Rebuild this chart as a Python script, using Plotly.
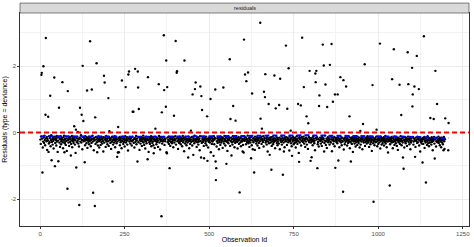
import numpy as np
import plotly.graph_objects as go

# ---- data ----
pos_ids = [17,148,10,126,167,5,4,42,66,82,30,139,153,189,191,202,242,253,261,263,16,24,56,118,123,128,163,101,106,112,205,231,274,
           366,401,603,373,427,561,281,289,319,405,404,606,290,351,376,367,460,458,474,451,477,504,518,542,610,276,292,360,372,396,479,494,571,563,578,341,446,
           651,727,775,836,862,735,615,666,693,710,797,817,814,839,857,815,844,888,897,905,780,627,662,665,826,872,880,676,707,697,731,763,771,825,849,866,788,793,915,652,656,741,
           1005,1135,1046,1087,1114,960,1100,1169,983,1041,1063,1089,1107,1120,1102,1174,1101,1068,1154,1164,1198,1208,955,995,947]
pos_res = [2.85,2.75,2.0,2.01,2.09,1.80,1.74,1.66,1.52,1.25,1.11,1.27,1.30,1.71,1.51,1.04,1.57,1.37,1.75,1.84,0.54,0.48,0.75,0.75,0.54,0.35,0.46,0.19,0.09,0.02,0.04,0.17,0.63,
           2.93,2.76,2.80,2.17,2.17,2.21,1.92,1.84,1.67,1.85,1.80,1.75,1.36,1.46,1.37,1.28,1.51,1.31,1.39,1.15,1.10,1.01,1.30,1.36,1.55,0.63,0.71,0.61,0.78,0.51,0.68,0.49,0.80,0.41,0.36,0.12,0.06,
           3.31,2.62,2.86,2.65,2.67,1.94,1.81,1.76,1.72,1.62,1.86,1.86,1.78,2.02,2.04,1.52,1.45,1.67,1.58,1.39,1.37,1.18,1.23,1.07,1.12,1.15,1.15,0.86,0.83,0.73,0.72,0.86,0.82,0.80,0.77,0.93,0.49,0.28,0.49,0.42,0.12,0.06,
           2.68,2.90,2.51,2.42,2.31,2.06,1.95,1.86,1.43,1.61,1.44,1.46,1.39,1.31,1.15,0.86,0.79,0.53,0.44,0.41,0.43,0.29,0.26,0.09,0.05]

neg_ids = [7,44,34,54,107,132,81,157,116,162,214,228,288,318,359,383,520,521,519,551,590,513,476,485,495,566,438,453,
           633,684,718,624,766,800,820,873,882,919,896,986,1034,1075,1073,1131,1141,1167,1109,599,629,679,721,745,803,840,1193,1207,
           72,91,25,169,233,336,374]
neg_res = [-1.20,-1.01,-0.83,-0.86,-1.05,-0.89,-1.69,-1.81,-2.18,-2.21,-1.47,-0.73,-0.87,-0.80,-2.52,-1.07,-1.43,-1.07,-0.87,-0.94,-1.80,-0.70,-0.75,-0.77,-0.85,-0.69,-0.75,-0.67,
           -1.20,-1.12,-1.27,-0.77,-0.88,-0.85,-1.07,-1.06,-0.84,-0.87,-1.78,-2.08,-1.59,-1.09,-0.75,-0.90,-1.50,-0.78,-0.73,-0.57,-0.50,-0.67,-0.57,-0.70,-0.74,-0.57,-0.53,-0.53,
           -0.59,-0.69,-0.58,-0.59,-0.59,-0.62,-0.59]

band_res = [
-0.21,-0.34,-0.12,-0.18,-0.45,-0.27,-0.15,-0.31,-0.09,-0.22,-0.38,-0.17,-0.26,-0.13,-0.52,-0.19,-0.24,-0.33,-0.11,-0.29,
-0.16,-0.41,-0.23,-0.08,-0.28,-0.19,-0.36,-0.14,-0.25,-0.48,-0.2,-0.12,-0.31,-0.17,-0.22,-0.39,-0.1,-0.27,-0.15,-0.58,
-0.24,-0.13,-0.3,-0.18,-0.43,-0.21,-0.11,-0.35,-0.26,-0.16,-0.2,-0.29,-0.47,-0.14,-0.23,-0.09,-0.32,-0.19,-0.27,-0.37,
-0.12,-0.25,-0.55,-0.18,-0.22,-0.3,-0.15,-0.4,-0.2,-0.13,-0.28,-0.17,-0.34,-0.24,-0.1,-0.44,-0.21,-0.16,-0.26,-0.31,
-0.19,-0.14,-0.36,-0.23,-0.61,-0.17,-0.29,-0.12,-0.25,-0.33,-0.2,-0.42,-0.15,-0.27,-0.18,-0.08,-0.3,-0.22,-0.5,-0.13,
-0.26,-0.16,-0.21,-0.38,-0.11,-0.24,-0.19,-0.32,-0.14,-0.46,-0.23,-0.17,-0.28,-0.12,-0.35,-0.2,-0.25,-0.15,-0.41,-0.22,
-0.31,-0.18,-0.09,-0.27,-0.2,-0.53,-0.16,-0.24,-0.34,-0.13,-0.21,-0.29,-0.17,-0.39,-0.23,-0.11,-0.26,-0.45,-0.19,-0.14,
-0.22,-0.37,-0.15,-0.28,-0.12,-0.2,-0.33,-0.18,-0.25,-0.57,-0.14,-0.3,-0.21,-0.16,-0.43,-0.24,-0.1,-0.27,-0.19,-0.35,
-0.17,-0.26,-0.4,-0.13,-0.23,-0.18,-0.31,-0.21,-0.49,-0.15,-0.28,-0.12,-0.24,-0.36,-0.2,-0.16,-0.3,-0.22,-0.11,-0.44,
-0.25,-0.19,-0.14,-0.32,-0.21,-0.27,-0.6,-0.17,-0.23,-0.13,-0.38,-0.2,-0.29,-0.15,-0.24,-0.47,-0.18,-0.26,-0.12,-0.34,
-0.2,-0.28,-0.16,-0.42,-0.23,-0.11,-0.3,-0.19,-0.25,-0.14,-0.36,-0.22,-0.54,-0.17,-0.27,-0.13,-0.21,-0.33,-0.18,-0.24,
-0.15,-0.39,-0.26,-0.12,-0.22,-0.31,-0.19,-0.45,-0.16,-0.28,-0.21,-0.1,-0.35,-0.24,-0.18,-0.29,-0.14,-0.52,-0.23,-0.2,
-0.33,-0.17,-0.25,-0.13,-0.4,-0.22,-0.27,-0.16,-0.09,-0.3,-0.2,-0.37,-0.15,-0.24,-0.48,-0.19,-0.26,-0.12,-0.32,-0.21,
-0.18,-0.23,-0.58,-0.14,-0.29,-0.2,-0.34,-0.16,-0.25,-0.11,-0.41,-0.22,-0.17,-0.31,-0.27,-0.13,-0.38,-0.19,-0.24,-0.46,
-0.12,-0.26,-0.2,-0.35,-0.15,-0.28,-0.22,-0.17,-0.43,-0.24,-0.1,-0.3,-0.19,-0.51,-0.14,-0.25,-0.21,-0.33,-0.16,-0.27,
-0.23,-0.13,-0.37,-0.2,-0.26,-0.18,-0.62,-0.15,-0.29,-0.22,-0.12,-0.34,-0.25,-0.17,-0.4,-0.21,-0.28,-0.14,-0.19,-0.32,
-0.27,-0.16,-0.22,-0.44,-0.13,-0.3,-0.2,-0.24,-0.11,-0.36,-0.18,-0.26,-0.15,-0.49,-0.23,-0.19,-0.31,-0.12,-0.28,-0.21,
-0.14,-0.35,-0.19,-0.25,-0.17,-0.41,-0.22,-0.1,-0.29,-0.24,-0.16,-0.56,-0.2,-0.33,-0.13,-0.27,-0.21,-0.38,-0.18,-0.23,
-0.3,-0.2,-0.12,-0.26,-0.47,-0.18,-0.23,-0.34,-0.15,-0.28,-0.21,-0.13,-0.39,-0.25,-0.17,-0.22,-0.32,-0.09,-0.27,-0.19,
-0.24,-0.43,-0.16,-0.29,-0.2,-0.14,-0.36,-0.22,-0.27,-0.18,-0.53,-0.11,-0.25,-0.31,-0.19,-0.15,-0.28,-0.23,-0.4,-0.17,
-0.21,-0.15,-0.32,-0.26,-0.12,-0.38,-0.19,-0.24,-0.45,-0.17,-0.28,-0.22,-0.14,-0.3,-0.2,-0.59,-0.16,-0.25,-0.34,-0.13,
-0.27,-0.19,-0.23,-0.11,-0.35,-0.21,-0.16,-0.42,-0.26,-0.18,-0.31,-0.14,-0.24,-0.2,-0.5,-0.15,-0.29,-0.22,-0.37,-0.12,
-0.18,-0.3,-0.25,-0.14,-0.21,-0.46,-0.17,-0.27,-0.33,-0.1,-0.23,-0.19,-0.39,-0.16,-0.26,-0.13,-0.28,-0.55,-0.2,-0.24,
-0.32,-0.13,-0.22,-0.18,-0.4,-0.25,-0.15,-0.29,-0.2,-0.36,-0.11,-0.27,-0.17,-0.23,-0.44,-0.19,-0.31,-0.14,-0.26,-0.21,
-0.16,-0.28,-0.48,-0.2,-0.24,-0.13,-0.34,-0.22,-0.18,-0.3,-0.15,-0.41,-0.25,-0.12,-0.27,-0.19,-0.37,-0.23,-0.6,-0.17,
-0.25,-0.21,-0.14,-0.35,-0.19,-0.28,-0.23,-0.09,-0.32,-0.17,-0.26,-0.43,-0.2,-0.15,-0.3,-0.22,-0.13,-0.38,-0.24,-0.18,
-0.29,-0.16,-0.22,-0.52,-0.12,-0.25,-0.2,-0.33,-0.18,-0.27,-0.14,-0.39,-0.23,-0.21,-0.17,-0.31,-0.46,-0.15,-0.26,-0.2,
-0.13,-0.34,-0.24,-0.19,-0.28,-0.11,-0.42,-0.22,-0.16,-0.3,-0.25,-0.18,-0.36,-0.14,-0.21,-0.57,-0.27,-0.2,-0.32,-0.15,
-0.23,-0.18,-0.3,-0.14,-0.4,-0.26,-0.2,-0.12,-0.35,-0.22,-0.29,-0.17,-0.25,-0.47,-0.19,-0.24,-0.13,-0.31,-0.21,-0.38,
-0.17,-0.27,-0.21,-0.33,-0.15,-0.5,-0.23,-0.19,-0.28,-0.1,-0.36,-0.25,-0.16,-0.22,-0.3,-0.18,-0.44,-0.14,-0.26,-0.2,
-0.26,-0.14,-0.37,-0.21,-0.17,-0.29,-0.23,-0.54,-0.12,-0.25,-0.19,-0.32,-0.16,-0.41,-0.22,-0.27,-0.13,-0.2,-0.35,-0.24,
-0.19,-0.31,-0.15,-0.24,-0.45,-0.2,-0.28,-0.11,-0.22,-0.34,-0.18,-0.26,-0.61,-0.14,-0.3,-0.21,-0.17,-0.39,-0.25,-0.13,
-0.22,-0.28,-0.18,-0.12,-0.33,-0.24,-0.2,-0.43,-0.16,-0.27,-0.15,-0.36,-0.21,-0.19,-0.49,-0.25,-0.13,-0.29,-0.23,-0.17,
-0.3,-0.2,-0.26,-0.15,-0.38,-0.22,-0.11,-0.27,-0.18,-0.32,-0.24,-0.53,-0.16,-0.21,-0.14,-0.35,-0.28,-0.19,-0.42,-0.23,
-0.15,-0.25,-0.33,-0.19,-0.22,-0.4,-0.13,-0.28,-0.2,-0.17,-0.31,-0.24,-0.09,-0.37,-0.26,-0.18,-0.46,-0.21,-0.14,-0.29,
-0.24,-0.17,-0.21,-0.36,-0.27,-0.12,-0.3,-0.2,-0.56,-0.15,-0.23,-0.34,-0.19,-0.26,-0.13,-0.41,-0.22,-0.16,-0.28,-0.25,
-0.2,-0.32,-0.14,-0.23,-0.18,-0.44,-0.26,-0.21,-0.12,-0.3,-0.17,-0.38,-0.24,-0.15,-0.27,-0.51,-0.19,-0.22,-0.35,-0.16,
-0.28,-0.13,-0.25,-0.2,-0.39,-0.17,-0.23,-0.31,-0.11,-0.26,-0.21,-0.47,-0.15,-0.29,-0.19,-0.24,-0.34,-0.14,-0.22,-0.58,
-0.18,-0.27,-0.22,-0.16,-0.33,-0.25,-0.13,-0.42,-0.2,-0.29,-0.17,-0.23,-0.37,-0.12,-0.26,-0.19,-0.31,-0.24,-0.15,-0.45,
-0.23,-0.36,-0.19,-0.27,-0.14,-0.21,-0.5,-0.17,-0.25,-0.3,-0.12,-0.22,-0.4,-0.18,-0.28,-0.16,-0.24,-0.33,-0.2,-0.11,
-0.26,-0.15,-0.3,-0.22,-0.43,-0.18,-0.24,-0.13,-0.35,-0.2,-0.28,-0.17,-0.55,-0.23,-0.14,-0.32,-0.25,-0.19,-0.38,-0.21,
-0.16,-0.29,-0.21,-0.12,-0.27,-0.41,-0.19,-0.24,-0.34,-0.15,-0.22,-0.3,-0.18,-0.48,-0.26,-0.13,-0.2,-0.36,-0.23,-0.17,
-0.31,-0.2,-0.25,-0.14,-0.39,-0.22,-0.16,-0.28,-0.1,-0.33,-0.24,-0.19,-0.44,-0.27,-0.13,-0.21,-0.6,-0.18,-0.26,-0.15,
-0.22,-0.35,-0.17,-0.26,-0.2,-0.13,-0.3,-0.24,-0.47,-0.16,-0.28,-0.21,-0.37,-0.12,-0.25,-0.19,-0.32,-0.23,-0.14,-0.4,
-0.19,-0.24,-0.52,-0.15,-0.29,-0.22,-0.18,-0.34,-0.26,-0.11,-0.2,-0.38,-0.25,-0.17,-0.3,-0.14,-0.23,-0.45,-0.21,-0.27,
-0.14,-0.32,-0.2,-0.26,-0.17,-0.4,-0.23,-0.12,-0.28,-0.19,-0.35,-0.22,-0.16,-0.5,-0.25,-0.3,-0.18,-0.24,-0.13,-0.36,
-0.27,-0.18,-0.23,-0.43,-0.15,-0.25,-0.21,-0.31,-0.12,-0.29,-0.2,-0.17,-0.39,-0.24,-0.14,-0.57,-0.22,-0.28,-0.19,-0.33,
-0.21,-0.26,-0.16,-0.34,-0.2,-0.13,-0.46,-0.25,-0.18,-0.3,-0.23,-0.15,-0.37,-0.27,-0.11,-0.22,-0.32,-0.19,-0.41,-0.24,
-0.17,-0.3,-0.24,-0.2,-0.36,-0.14,-0.28,-0.22,-0.53,-0.19,-0.25,-0.13,-0.33,-0.21,-0.18,-0.42,-0.26,-0.16,-0.29,-0.23,
-0.25,-0.12,-0.31,-0.19,-0.22,-0.38,-0.16,-0.27,-0.2,-0.44,-0.15,-0.24,-0.3,-0.18,-0.35,-0.21,-0.13,-0.26,-0.49,-0.2,
]

strip_label = "residuals"
x_title = "Observation Id"
y_title = "Residuals (type = deviance)"
x_ticks = [0, 250, 500, 750, 1000, 1250]
y_ticks = [-2, 0, 2]

# ---- assemble observations (ids are sequential) ----
out_map = {}
for i, r in zip(pos_ids, pos_res):
    out_map[i] = r
for i, r in zip(neg_ids, neg_res):
    out_map[i] = r
n_total = len(out_map) + len(band_res)
free_ids = [i for i in range(1, n_total + 1) if i not in out_map]
obs = dict(out_map)
for i, r in zip(free_ids, band_res):
    obs[i] = r
xs = np.array(sorted(obs.keys()), dtype=float)
ys = np.array([obs[int(k)] for k in xs])

# loess-like smoother (like geom_smooth)
def lowess(x, y, grid, frac=0.75):
    n = len(x)
    k = int(np.ceil(frac * n))
    out = []
    for g in grid:
        d = np.abs(x - g)
        h = np.sort(d)[k - 1]
        w = np.clip(1 - (d / h) ** 3, 0, None) ** 3
        c = np.polyfit(x - g, y, 2, w=np.sqrt(w))
        out.append(c[-1])
    return np.array(out)

grid = np.linspace(xs.min(), xs.max(), 80)
smooth = lowess(xs, ys, grid)

xmin, xmax = xs.min(), xs.max()
xpad = 0.05 * (xmax - xmin)
ymin, ymax = ys.min(), ys.max()
ypad = 0.05 * (ymax - ymin)

fig = go.Figure()
fig.add_trace(go.Scatter(x=xs, y=ys, mode="markers",
                         marker=dict(color="black", size=2.4, line=dict(width=0)),
                         showlegend=False, hoverinfo="skip"))
fig.add_trace(go.Scatter(x=[xmin - xpad, xmax + xpad], y=[0, 0], mode="lines",
                         line=dict(color="#FF0000", width=2, dash="5px,3px"),
                         showlegend=False, hoverinfo="skip"))
fig.add_trace(go.Scatter(x=grid, y=smooth, mode="lines",
                         line=dict(color="#0000FF", width=2, dash="5px,3px"),
                         showlegend=False, hoverinfo="skip"))

axis_common = dict(showline=True, mirror=True, linecolor="#333333", linewidth=0.6,
                   zeroline=False, showgrid=True, gridcolor="#EBEBEB", gridwidth=0.8,
                   ticks="outside", ticklen=2, tickcolor="#333333", tickwidth=0.6,
                   tickfont=dict(family="Liberation Sans, Arial, sans-serif", size=6, color="#4D4D4D"))

fig.update_xaxes(range=[xmin - xpad, xmax + xpad], tickvals=x_ticks,
                 ticktext=[str(t) for t in x_ticks],
                 minor=dict(tickvals=[125, 375, 625, 875, 1125], showgrid=True,
                            gridcolor="#F3F3F3", gridwidth=0.5, ticks=""),
                 title=dict(text=x_title, standoff=1,
                            font=dict(family="Liberation Sans, Arial, sans-serif", size=7, color="#000000")),
                 **axis_common)
fig.update_yaxes(range=[ymin - ypad, ymax + ypad], tickvals=y_ticks,
                 ticktext=[str(t) for t in y_ticks],
                 minor=dict(tickvals=[-1, 1, 3], showgrid=True,
                            gridcolor="#F3F3F3", gridwidth=0.5, ticks=""),
                 title=dict(text=y_title, standoff=2,
                            font=dict(family="Liberation Sans, Arial, sans-serif", size=7, color="#000000")),
                 **axis_common)

panel_h = 215.0
fig.add_shape(type="rect", xref="paper", yref="paper", x0=0, x1=1, y0=1, y1=1 + 10 / panel_h,
              fillcolor="#D9D9D9", line=dict(color="#333333", width=0.6), layer="above")
fig.add_annotation(text=strip_label, xref="paper", yref="paper", x=0.5, y=1 + 5 / panel_h,
                   showarrow=False, font=dict(family="Liberation Sans, Arial, sans-serif", size=5.5, color="#1A1A1A"),
                   xanchor="center", yanchor="middle")

fig.update_layout(width=474, height=247, margin=dict(l=17, r=4, t=13, b=19),
                  paper_bgcolor="white", plot_bgcolor="white", showlegend=False)

fig.write_html("out.html")
